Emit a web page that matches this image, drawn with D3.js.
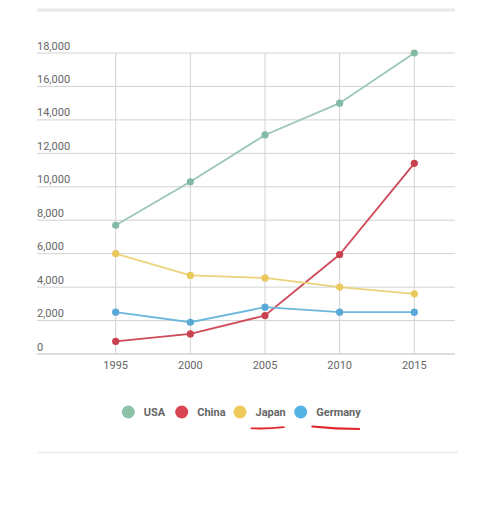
<!DOCTYPE html>
<html>
<head>
<meta charset="utf-8">
<script src="https://cdn.jsdelivr.net/npm/d3@7"></script>
<style>
  body { margin: 0; background: #fff; }
  text { font-family: Roboto, sans-serif; }
</style>
</head>
<body>
<div id="chart"></div>
<script>
const years = [1995, 2000, 2005, 2010, 2015];
const yTicks = [0, 2000, 4000, 6000, 8000, 10000, 12000, 14000, 16000, 18000];
const usa = [7700, 10300, 13100, 15000, 18000];
const china = [750, 1200, 2300, 5950, 11400];
const japan = [6000, 4700, 4550, 4000, 3600];
const germany = [2500, 1900, 2800, 2500, 2500];

const seriesNames = ['USA', 'China', 'Japan', 'Germany'];
const seriesValues = [usa, china, japan, germany];
const lineColors = ['#9cc8b3', '#cf4a5a', '#ecd27a', '#6db7dd'];
const dotColors = ['#84b9a4', '#c9424f', '#e9c95c', '#58a9d6'];
const legendColors = ['#8cc3a8', '#d94452', '#eecb5a', '#55b4e3'];

const width = 483, height = 512;
const plotLeft = 37, plotRight = 455, plotTop = 53, plotBottom = 354;

const svg = d3.select('#chart').append('svg')
  .attr('width', width)
  .attr('height', height);

const x = d3.scaleLinear().domain([1995, 2015]).range([115.7, 414.3]);
const y = d3.scaleLinear().domain([0, 18000]).range([plotBottom, plotTop]);

// top and bottom separator bars
svg.append('line').attr('x1', plotLeft).attr('x2', plotRight).attr('y1', 10).attr('y2', 10)
  .attr('stroke', '#e8e8e8').attr('stroke-width', 3);
svg.append('line').attr('x1', plotLeft).attr('x2', plotRight + 3).attr('y1', 452.5).attr('y2', 452.5)
  .attr('stroke', '#ececec').attr('stroke-width', 1.5);

// horizontal grid + labels
svg.selectAll('.hgrid').data(yTicks).enter().append('line')
  .attr('class', 'hgrid')
  .attr('x1', plotLeft).attr('x2', plotRight)
  .attr('y1', d => y(d)).attr('y2', d => y(d))
  .attr('stroke', d => d === 0 ? '#bbb' : '#d2d2d2')
  .attr('stroke-width', 1);

svg.selectAll('.ylab').data(yTicks).enter().append('text')
  .attr('class', 'ylab')
  .attr('x', plotLeft)
  .attr('y', d => y(d) - 3.5)
  .attr('font-size', 11)
  .attr('fill', '#666')
  .text(d => d3.format(',')(d));

// vertical grid + labels
svg.selectAll('.vgrid').data(years).enter().append('line')
  .attr('class', 'vgrid')
  .attr('x1', d => x(d)).attr('x2', d => x(d))
  .attr('y1', plotTop).attr('y2', plotBottom)
  .attr('stroke', '#d2d2d2');

svg.selectAll('.xlab').data(years).enter().append('text')
  .attr('class', 'xlab')
  .attr('x', d => x(d))
  .attr('y', 369)
  .attr('text-anchor', 'middle')
  .attr('font-size', 11)
  .attr('fill', '#666')
  .text(d => d);

// lines and points
const line = d3.line()
  .x((d, i) => x(years[i]))
  .y(d => y(d));

seriesValues.forEach((vals, s) => {
  svg.append('path')
    .attr('d', line(vals))
    .attr('fill', 'none')
    .attr('stroke', lineColors[s])
    .attr('stroke-width', 1.8);
});

seriesValues.forEach((vals, s) => {
  svg.selectAll('.dot' + s).data(vals).enter().append('circle')
    .attr('cx', (d, i) => x(years[i]))
    .attr('cy', d => y(d))
    .attr('r', 3.6)
    .attr('fill', dotColors[s]);
});

// legend
const legendX = [128.3, 181.7, 240, 300.7];
const legendY = 412;
const legend = svg.selectAll('.leg').data(seriesNames).enter().append('g')
  .attr('transform', (d, i) => `translate(${legendX[i]},${legendY})`);

legend.append('circle').attr('r', 6.5).attr('fill', (d, i) => legendColors[i]);
const legText = legend.append('text')
  .attr('x', 15.5)
  .attr('y', 4)
  .attr('font-size', 11)
  .attr('font-weight', 'bold')
  .attr('fill', '#666')
  .text(d => d);

// red hand-drawn underlines under Japan and Germany
[2, 3].forEach(i => {
  const node = legText.nodes()[i];
  const b = node.getBBox();
  const x0 = legendX[i] + b.x - 4, x1 = legendX[i] + b.x + b.width - 2;
  const yy = legendY + 15.5;
  svg.append('path')
    .attr('d', `M${x0},${yy + (i === 3 ? -1 : 0.8)} Q${(x0 + x1) / 2},${yy + 1.5} ${x1},${yy + (i === 3 ? 1.5 : -0.3)}`)
    .attr('fill', 'none')
    .attr('stroke', '#e0262b')
    .attr('stroke-width', 1.8)
    .attr('stroke-linecap', 'round');
});
</script>
</body>
</html>
